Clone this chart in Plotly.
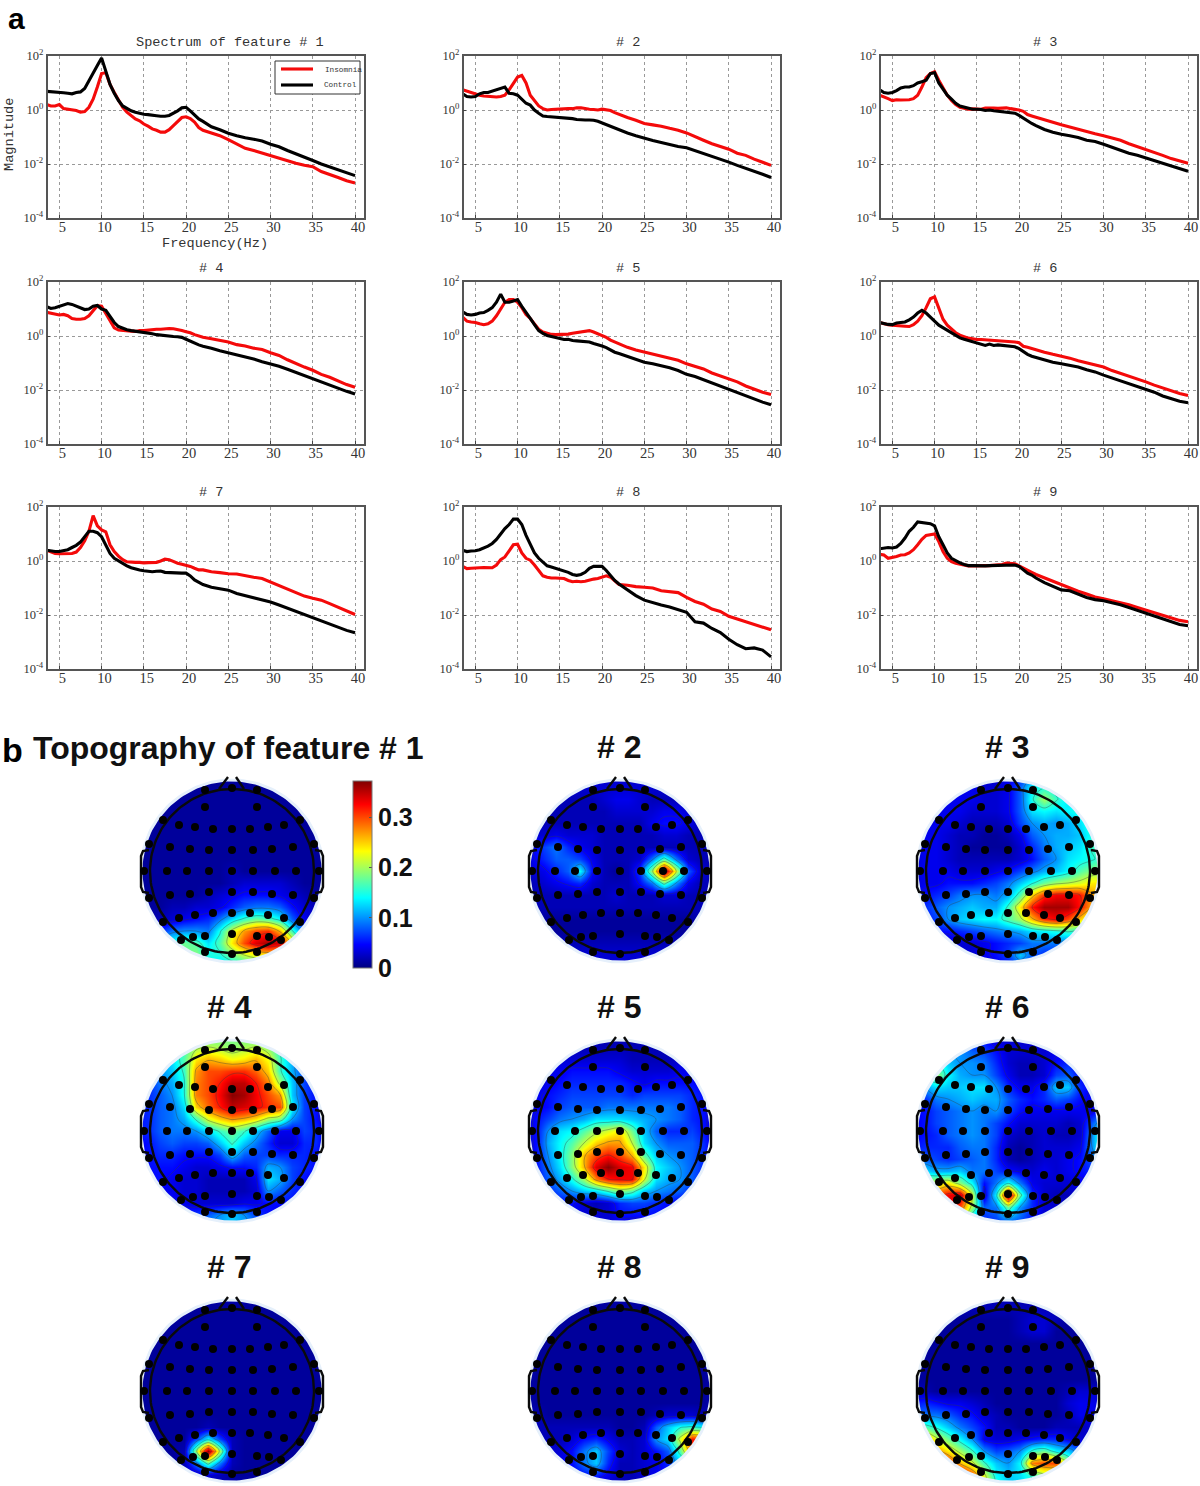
import numpy as np
import plotly.graph_objects as go

W, H = 1200, 1486
MONO = "Liberation Mono"
SANS = "Liberation Sans"
SERIF = "Liberation Serif"

# frequency samples (Hz) shared by all spectra
freq = [3.5, 4, 4.5, 5, 5.5, 6, 6.5, 7, 7.5, 8, 8.5, 9, 9.5, 10, 10.5, 11, 11.5, 12, 12.5, 13,
        13.5, 14, 14.5, 15, 15.5, 16, 16.5, 17, 17.5, 18, 18.5, 19, 19.5, 20, 20.5, 21, 21.5, 22,
        23, 24, 25, 26, 27, 28, 29, 30, 31, 32, 33, 34, 35, 36, 37, 38, 39, 40]

# log10 magnitude
insomnia_1 = [.2, .15, .15, .2, .05, .03, .02, -.02, -.08, -.06, .1, .4, .85, 1.35, 1.38, .95, .65, .38, .1, -.08,
              -.2, -.33, -.4, -.52, -.6, -.7, -.75, -.82, -.82, -.73, -.58, -.42, -.28, -.25, -.32, -.45, -.65, -.75,
              -.85, -.95, -1.1, -1.27, -1.42, -1.5, -1.6, -1.68, -1.78, -1.88, -1.97, -2.05, -2.1, -2.28, -2.38, -2.5, -2.62, -2.7]
control_1 = [.69, .68, .68, .67, .64, .62, .6, .65, .67, .8, 1.1, 1.35, 1.65, 1.93, 1.45, .95, .62, .35, .15, .05,
             -.03, -.08, -.13, -.16, -.17, -.2, -.21, -.23, -.23, -.2, -.12, -.03, .08, .1, -.03, -.2, -.33, -.42,
             -.62, -.73, -.86, -.95, -1.03, -1.08, -1.15, -1.27, -1.36, -1.5, -1.62, -1.72, -1.87, -2.0, -2.1, -2.2, -2.32, -2.43]
insomnia_2 = [.75, .7, .63, .6, .55, .52, .5, .5, .48, .5, .55, .75, 1.0, 1.22, 1.28, 1.0, .55, .35, .15, .05,
              0, .02, .03, .05, .05, .05, .05, .08, .08, .05, .03, .02, 0, .03, .01, -.02, -.1, -.17,
              -.28, -.38, -.5, -.55, -.6, -.68, -.75, -.85, -1.0, -1.12, -1.25, -1.35, -1.45, -1.6, -1.68, -1.82, -1.93, -2.05]
control_2 = [.6, .5, .48, .5, .6, .65, .65, .7, .75, .8, .85, .62, .6, .55, .4, .25, .18, 0, -.12, -.22,
             -.24, -.25, -.27, -.28, -.3, -.3, -.32, -.35, -.37, -.37, -.37, -.38, -.42, -.48, -.55, -.63, -.68, -.72,
             -.85, -.95, -1.05, -1.13, -1.2, -1.28, -1.35, -1.4, -1.5, -1.62, -1.72, -1.8, -1.93, -2.05, -2.15, -2.28, -2.38, -2.5]
insomnia_3 = [.55, .5, .42, .35, .38, .37, .37, .38, .42, .55, .85, 1.2, 1.35, 1.42, 1.1, .8, .55, .35, .2, .1,
              .05, .03, .04, .04, .03, .07, .08, .07, .06, .08, .08, .05, .03, 0, -.05, -.17, -.22, -.27,
              -.38, -.47, -.55, -.63, -.72, -.8, -.88, -.95, -1.03, -1.12, -1.25, -1.35, -1.45, -1.55, -1.68, -1.8, -1.9, -1.97]
control_3 = [.75, .65, .62, .65, .72, .82, .85, .85, .9, 1.0, 1.05, 1.1, 1.35, 1.38, 1.0, .75, .55, .4, .25, .15,
             .1, .05, .03, .03, .02, -.02, 0, -.03, -.05, -.07, -.08, -.1, -.12, -.2, -.3, -.42, -.5, -.58,
             -.72, -.82, -.9, -.95, -1.02, -1.12, -1.17, -1.27, -1.38, -1.5, -1.6, -1.68, -1.78, -1.88, -1.97, -2.08, -2.17, -2.27]
insomnia_4 = [.88, .85, .8, .78, .8, .75, .65, .62, .62, .65, .75, .95, 1.12, 1.1, .85, .55, .3, .22, .2, .2,
              .18, .17, .2, .2, .22, .23, .25, .25, .27, .28, .27, .22, .2, .16, .12, .05, 0, -.05,
              -.1, -.17, -.22, -.32, -.37, -.45, -.5, -.62, -.72, -.88, -1.03, -1.15, -1.27, -1.42, -1.53, -1.68, -1.8, -1.9]
control_4 = [1.09, 1.02, 1.05, 1.1, 1.15, 1.2, 1.17, 1.1, 1.05, .98, 1.0, 1.1, 1.13, 1.0, .95, .7, .5, .35, .28, .23,
             .2, .18, .15, .12, .1, .08, .05, .03, 0, 0, -.02, -.03, -.05, -.12, -.2, -.28, -.33, -.38,
             -.45, -.55, -.62, -.7, -.78, -.85, -.95, -1.03, -1.12, -1.23, -1.35, -1.45, -1.57, -1.7, -1.82, -1.93, -2.05, -2.15]
insomnia_5 = [.7, .55, .52, .5, .45, .42, .45, .55, .75, 1.0, 1.25, 1.35, 1.35, 1.25, 1.05, .8, .65, .45, .25, .15,
              .1, .06, .05, .05, .05, .07, .1, .12, .15, .18, .2, .15, .08, .03, -.05, -.15, -.22, -.3,
              -.42, -.52, -.6, -.68, -.75, -.82, -.9, -1.03, -1.12, -1.22, -1.37, -1.48, -1.57, -1.7, -1.85, -1.97, -2.08, -2.17]
control_5 = [.9, .8, .78, .8, .85, .87, .95, 1.05, 1.25, 1.55, 1.25, 1.25, 1.3, 1.35, 1.1, .85, .65, .42, .2, .1,
             .02, -.02, -.05, -.08, -.13, -.12, -.17, -.18, -.2, -.22, -.22, -.28, -.32, -.37, -.43, -.52, -.6, -.65,
             -.75, -.85, -.97, -1.03, -1.1, -1.18, -1.28, -1.42, -1.5, -1.62, -1.73, -1.85, -2.0, -2.1, -2.23, -2.35, -2.45, -2.55]
insomnia_6 = [.5, .45, .42, .4, .38, .37, .36, .35, .42, .55, .75, 1.05, 1.38, 1.45, 1.0, .62, .4, .25, .12, .03,
              -.03, -.08, -.1, -.13, -.13, -.14, -.15, -.16, -.17, -.17, -.18, -.2, -.22, -.25, -.38, -.42, -.47, -.52,
              -.6, -.68, -.75, -.82, -.92, -1.0, -1.08, -1.15, -1.28, -1.38, -1.48, -1.6, -1.7, -1.82, -1.93, -2.03, -2.13, -2.2]
control_6 = [.5, .46, .43, .42, .48, .5, .52, .6, .7, .85, .95, .85, .68, .55, .4, .3, .2, .1, 0, -.07,
             -.12, -.17, -.22, -.25, -.3, -.35, -.3, -.35, -.33, -.35, -.37, -.38, -.4, -.47, -.58, -.68, -.75, -.8,
             -.88, -.97, -1.03, -1.08, -1.15, -1.25, -1.33, -1.45, -1.55, -1.65, -1.78, -1.88, -1.98, -2.08, -2.22, -2.32, -2.42, -2.47]
insomnia_7 = [.4, .33, .28, .27, .27, .27, .28, .33, .5, .75, 1.1, 1.68, 1.3, 1.15, 1.08, .6, .35, .18, .05, -.03,
              -.05, -.05, -.05, -.07, -.06, -.05, -.05, 0, .07, .05, -.02, -.08, -.12, -.15, -.2, -.27, -.33, -.33,
              -.4, -.43, -.47, -.48, -.55, -.6, -.65, -.78, -.92, -1.05, -1.18, -1.3, -1.38, -1.45, -1.58, -1.72, -1.85, -1.98]
control_7 = [.4, .37, .35, .35, .38, .42, .5, .58, .7, .88, 1.1, 1.1, 1.05, .9, .6, .28, .1, 0, -.1, -.18,
             -.25, -.3, -.33, -.36, -.38, -.4, -.38, -.37, -.42, -.43, -.45, -.45, -.45, -.45, -.55, -.7, -.77, -.87,
             -.97, -1.03, -1.08, -1.2, -1.28, -1.37, -1.43, -1.52, -1.63, -1.75, -1.87, -1.98, -2.1, -2.23, -2.36, -2.47, -2.57, -2.66]
insomnia_8 = [-.2, -.28, -.27, -.25, -.25, -.24, -.24, -.25, -.15, .05, .15, .4, .6, .62, .3, .1, .03, -.15, -.35, -.55,
              -.6, -.63, -.63, -.65, -.65, -.72, -.77, -.75, -.77, -.75, -.7, -.67, -.65, -.6, -.55, -.6, -.72, -.87,
              -.9, -.95, -.97, -1.0, -1.1, -1.13, -1.17, -1.35, -1.5, -1.6, -1.78, -1.87, -2.05, -2.15, -2.25, -2.37, -2.47, -2.55]
control_8 = [.4, .35, .37, .38, .42, .47, .55, .65, .8, 1.0, 1.2, 1.35, 1.55, 1.55, 1.35, .95, .6, .3, .1, -.05,
             -.18, -.22, -.27, -.3, -.35, -.42, -.5, -.53, -.5, -.42, -.27, -.2, -.2, -.2, -.35, -.55, -.72, -.85,
             -1.07, -1.28, -1.45, -1.55, -1.63, -1.7, -1.8, -1.9, -2.25, -2.3, -2.5, -2.65, -2.9, -3.1, -3.25, -3.22, -3.3, -3.55]
insomnia_9 = [.25, .22, .1, .13, .17, .22, .23, .3, .42, .6, .8, .95, .98, 1.0, .72, .35, .1, -.02, -.08, -.12,
              -.15, -.18, -.18, -.17, -.18, -.17, -.17, -.15, -.15, -.13, -.08, -.08, -.1, -.18, -.27, -.35, -.42, -.5,
              -.63, -.75, -.88, -1.0, -1.12, -1.22, -1.33, -1.4, -1.47, -1.53, -1.62, -1.72, -1.82, -1.92, -2.02, -2.1, -2.2, -2.25]
control_9 = [.45, .48, .5, .48, .52, .65, .85, 1.1, 1.25, 1.45, 1.43, 1.4, 1.38, 1.3, .9, .6, .3, .1, 0, -.07,
             -.13, -.17, -.17, -.18, -.18, -.18, -.17, -.17, -.16, -.17, -.15, -.15, -.15, -.2, -.32, -.45, -.52, -.63,
             -.8, -.95, -1.07, -1.1, -1.22, -1.35, -1.43, -1.47, -1.55, -1.62, -1.72, -1.82, -1.93, -2.02, -2.13, -2.23, -2.35, -2.4]
insomnia = [insomnia_1, insomnia_2, insomnia_3, insomnia_4, insomnia_5, insomnia_6, insomnia_7, insomnia_8, insomnia_9]
control = [control_1, control_2, control_3, control_4, control_5, control_6, control_7, control_8, control_9]

x_ticks = [5, 10, 15, 20, 25, 30, 35, 40]
y_ticks = [1e-4, 1e-2, 1, 100]
y_tick_text = ["10<sup>-4</sup>", "10<sup>-2</sup>", "10<sup>0</sup>", "10<sup>2</sup>"]
colorbar_ticks = [0, 0.1, 0.2, 0.3]
colorbar_text = ["0", "0.1", "0.2", "0.3"]

# electrode positions, px from head centre
electrode_x = [-27, 0, 25, -27, 25, -69, 68, -53, -37, -19, 0, 18, 36, 52, -83, 82, -62, -42, -23, 0, 21, 40, 61,
               -88, 87, -65, -45, -23, 0, 21, 43, 64, -83, 82, -62, -42, -23, 0, 21, 40, 61,
               -69, 68, -53, -37, -19, 0, 18, 36, 52, -51, -39, -27, 0, 25, 37, 49, -27, 0, 25]
electrode_y = [81, 83, 81, 64, 64, 51, 51, 46, 44, 42, 42, 42, 44, 46, 27, 27, 24, 22, 21, 21, 21, 22, 24,
               0, 0, 0, 0, 0, 0, 0, 0, 0, -27, -27, -24, -23, -21, -21, -21, -23, -24,
               -51, -51, -47, -44, -42, -42, -42, -44, -47, -69, -66, -65, -63, -65, -66, -69, -81, -83, -81]

# topography weights x100, rows run top to bottom, columns left to right
topo_1 = [
    [1] * 17, [1] * 17, [1] * 17, [1] * 17, [1] * 17, [1] * 17, [1] * 17, [1] * 17,
    [1, 1, 1, 1, 1, 1, 1, 1, 2, 1, 1, 1, 1, 1, 1, 1, 1],
    [1, 1, 1, 1, 1, 1, 1, 1, 2, 3, 3, 3, 3, 2, 1, 1, 1],
    [1, 1, 1, 1, 1, 1, 2, 3, 4, 5, 5, 5, 4, 3, 2, 1, 1],
    [1, 1, 1, 2, 2, 3, 3, 4, 6, 8, 9, 9, 8, 5, 3, 2, 1],
    [2, 2, 2, 3, 4, 5, 6, 9, 13, 16, 18, 17, 14, 8, 4, 2, 2],
    [4, 4, 6, 9, 10, 10, 9, 15, 22, 27, 30, 31, 26, 16, 8, 4, 3],
    [10, 10, 12, 15, 18, 17, 13, 17, 24, 30, 34, 36, 34, 25, 12, 6, 4],
    [12, 12, 14, 16, 18, 19, 15, 15, 18, 21, 23, 24, 23, 16, 8, 5, 4],
    [10, 10, 12, 13, 14, 14, 13, 12, 13, 14, 15, 15, 15, 12, 6, 4, 4],
]
topo_2 = [
    [3] * 17,
    [3] * 17,
    [2, 2, 2, 2, 2, 2, 2, 3, 4, 4, 3, 2, 2, 2, 2, 2, 2],
    [2, 2, 2, 2, 2, 2, 2, 2, 3, 3, 3, 3, 4, 4, 3, 2, 2],
    [2, 2, 2, 2, 2, 2, 2, 2, 2, 2, 2, 4, 5, 5, 4, 2, 2],
    [2, 3, 3, 4, 3, 3, 3, 2, 2, 2, 2, 2, 3, 3, 2, 2, 2],
    [2, 4, 7, 9, 6, 4, 3, 2, 2, 2, 2, 2, 2, 2, 2, 2, 2],
    [2, 4, 6, 8, 8, 7, 4, 2, 2, 2, 3, 9, 17, 9, 3, 2, 2],
    [2, 3, 4, 6, 8, 14, 5, 2, 1, 2, 7, 20, 37, 22, 8, 3, 2],
    [2, 2, 3, 4, 5, 6, 3, 2, 2, 2, 5, 9, 17, 10, 4, 2, 2],
    [2, 2, 2, 2, 2, 2, 2, 2, 3, 2, 2, 2, 3, 3, 2, 2, 2],
    [2, 2, 2, 2, 2, 2, 2, 2, 2, 2, 2, 2, 2, 2, 2, 2, 2],
    [2, 2, 1, 1, 1, 1, 1, 1, 1, 1, 1, 1, 1, 1, 1, 2, 2],
    [2, 2, 1, 1, 1, 1, 1, 1, 1, 1, 1, 1, 1, 1, 1, 2, 2],
    [3, 2, 2, 2, 2, 2, 2, 2, 2, 2, 2, 2, 2, 2, 2, 2, 3],
    [3] * 17,
    [3] * 17,
]
topo_3 = [
    [3, 3, 3, 3, 3, 3, 3, 3, 4, 6, 8, 9, 9, 8, 6, 4, 3],
    [3, 3, 3, 3, 4, 4, 3, 3, 4, 8, 14, 15, 14, 13, 10, 8, 5],
    [3, 3, 3, 4, 4, 4, 3, 3, 4, 8, 15, 20, 16, 13, 13, 12, 10],
    [3, 4, 4, 4, 4, 3, 3, 3, 4, 8, 13, 14, 13, 14, 15, 16, 14],
    [3, 4, 4, 4, 3, 2, 2, 2, 3, 7, 10, 11, 10, 11, 13, 16, 16],
    [3, 4, 4, 3, 2, 2, 1, 1, 2, 4, 8, 10, 11, 11, 12, 15, 17],
    [3, 4, 4, 3, 2, 1, 1, 1, 1, 3, 6, 9, 11, 12, 13, 16, 17],
    [3, 4, 4, 3, 2, 2, 2, 2, 2, 3, 5, 8, 10, 13, 14, 15, 17],
    [3, 4, 4, 4, 3, 3, 3, 4, 5, 7, 9, 11, 12, 14, 17, 19, 20],
    [3, 4, 4, 5, 5, 5, 6, 7, 9, 12, 15, 18, 20, 21, 22, 24, 24],
    [4, 5, 6, 7, 9, 10, 10, 9, 11, 17, 25, 31, 33, 33, 32, 27, 26],
    [4, 6, 8, 10, 11, 12, 11, 11, 16, 24, 32, 36, 36, 36, 32, 26, 22],
    [4, 5, 7, 10, 12, 13, 14, 14, 17, 20, 26, 31, 33, 30, 25, 20, 16],
    [3, 4, 5, 5, 6, 7, 8, 9, 10, 11, 13, 14, 15, 16, 15, 12, 10],
    [3, 3, 3, 3, 3, 3, 4, 5, 6, 7, 9, 9, 9, 9, 9, 8, 6],
    [3, 3, 3, 3, 3, 3, 4, 5, 7, 12, 8, 6, 6, 5, 4, 3, 3],
    [3, 3, 3, 3, 3, 3, 3, 4, 5, 7, 5, 4, 4, 3, 3, 3, 3],
]
topo_4 = [
    [3, 5, 8, 10, 12, 14, 16, 18, 18, 18, 16, 14, 12, 10, 8, 5, 3],
    [3, 5, 8, 12, 16, 20, 21, 20, 19, 20, 21, 19, 15, 11, 8, 5, 3],
    [4, 6, 10, 13, 17, 24, 26, 25, 23, 24, 26, 23, 16, 11, 7, 5, 3],
    [4, 6, 10, 12, 16, 27, 30, 30, 31, 31, 29, 25, 16, 11, 7, 5, 3],
    [4, 6, 9, 11, 15, 28, 30, 32, 35, 35, 32, 28, 20, 12, 7, 5, 3],
    [5, 6, 8, 10, 15, 28, 30, 33, 37, 36, 33, 30, 27, 12, 7, 5, 3],
    [5, 6, 8, 9, 13, 25, 29, 32, 35, 34, 33, 31, 30, 14, 7, 5, 3],
    [5, 6, 8, 9, 11, 16, 22, 25, 27, 26, 24, 20, 18, 10, 7, 5, 3],
    [5, 6, 8, 9, 9, 10, 13, 16, 18, 16, 12, 8, 4, 4, 7, 6, 4],
    [4, 5, 7, 8, 7, 7, 8, 12, 16, 12, 9, 6, 3, 3, 6, 6, 3],
    [4, 5, 6, 6, 5, 5, 5, 7, 12, 8, 7, 7, 6, 6, 6, 5, 3],
    [4, 5, 5, 5, 4, 3, 3, 4, 5, 5, 6, 11, 10, 7, 6, 5, 3],
    [4, 5, 5, 4, 3, 3, 2, 2, 2, 2, 4, 13, 11, 7, 5, 4, 3],
    [4, 4, 4, 4, 3, 3, 2, 2, 2, 2, 3, 10, 8, 6, 5, 4, 3],
    [3, 3, 4, 5, 4, 3, 3, 3, 3, 4, 4, 5, 5, 5, 4, 3, 3],
    [3, 3, 4, 5, 6, 7, 8, 10, 12, 10, 7, 5, 4, 4, 3, 3, 3],
    [3, 3, 4, 6, 8, 9, 10, 11, 12, 11, 9, 7, 5, 4, 3, 3, 3],
]
topo_5 = [
    [2] * 17,
    [2] * 17,
    [2, 3, 3, 3, 3, 3, 3, 3, 3, 2, 2, 2, 2, 3, 3, 3, 2],
    [2, 3, 4, 4, 5, 5, 5, 5, 4, 3, 3, 3, 3, 4, 4, 4, 3],
    [3, 3, 4, 5, 6, 6, 6, 6, 6, 5, 4, 5, 5, 5, 5, 4, 3],
    [3, 4, 5, 6, 7, 7, 7, 7, 7, 6, 7, 7, 7, 7, 6, 5, 3],
    [3, 4, 5, 7, 8, 8, 8, 9, 9, 9, 9, 9, 9, 8, 6, 5, 3],
    [3, 5, 7, 9, 10, 11, 13, 13, 13, 12, 11, 10, 9, 8, 6, 5, 3],
    [3, 5, 10, 13, 14, 17, 20, 22, 24, 18, 12, 8, 6, 6, 7, 5, 3],
    [3, 5, 11, 14, 17, 21, 25, 27, 27, 21, 13, 10, 8, 8, 8, 6, 3],
    [3, 5, 10, 14, 19, 26, 30, 32, 30, 26, 17, 12, 10, 9, 8, 6, 3],
    [3, 5, 9, 13, 19, 26, 34, 37, 34, 33, 24, 14, 12, 10, 8, 6, 3],
    [3, 5, 8, 11, 15, 20, 28, 32, 33, 33, 22, 13, 11, 10, 8, 5, 3],
    [3, 4, 6, 8, 10, 12, 13, 16, 19, 17, 12, 10, 9, 8, 6, 4, 3],
    [3, 3, 4, 5, 5, 3, 2, 3, 6, 7, 7, 6, 5, 4, 3, 3, 3],
    [3, 3, 3, 4, 4, 3, 3, 3, 5, 5, 5, 5, 4, 3, 3, 3, 3],
    [3] * 17,
]
topo_6 = [
    [3, 3, 3, 4, 4, 5, 5, 3, 3, 3, 3, 3, 3, 3, 3, 3, 3],
    [4, 5, 8, 10, 10, 8, 7, 5, 3, 3, 3, 3, 4, 4, 3, 3, 3],
    [6, 10, 16, 12, 10, 10, 9, 6, 3, 2, 2, 3, 5, 6, 4, 3, 3],
    [10, 14, 20, 14, 11, 10, 10, 7, 4, 2, 2, 3, 7, 8, 5, 3, 3],
    [6, 10, 13, 12, 12, 13, 13, 10, 6, 4, 4, 6, 12, 12, 6, 4, 3],
    [4, 6, 9, 10, 11, 12, 11, 11, 8, 6, 5, 6, 8, 7, 5, 4, 3],
    [4, 5, 7, 8, 9, 10, 9, 10, 7, 5, 4, 4, 4, 4, 4, 4, 6],
    [4, 5, 7, 8, 9, 10, 9, 7, 5, 3, 3, 3, 3, 2, 3, 8, 13],
    [4, 5, 6, 8, 9, 10, 9, 7, 3, 2, 2, 3, 2, 2, 3, 10, 18],
    [5, 6, 6, 6, 8, 9, 9, 6, 2, 1, 2, 3, 3, 3, 4, 10, 18],
    [7, 8, 7, 6, 7, 8, 9, 6, 2, 1, 2, 3, 3, 4, 5, 8, 12],
    [12, 13, 11, 11, 12, 9, 9, 7, 5, 4, 3, 4, 3, 4, 5, 6, 5],
    [18, 20, 22, 24, 19, 14, 5, 9, 15, 9, 4, 3, 3, 3, 4, 4, 3],
    [25, 30, 30, 33, 35, 22, 3, 14, 37, 17, 6, 3, 2, 2, 3, 3, 3],
    [25, 30, 35, 34, 30, 20, 8, 9, 18, 10, 6, 3, 3, 3, 3, 3, 3],
    [15, 20, 28, 30, 25, 12, 6, 7, 10, 8, 5, 3, 3, 3, 3, 3, 3],
    [8, 10, 14, 15, 12, 8, 5, 5, 6, 5, 4, 3, 3, 3, 3, 3, 3],
]
topo_7 = [
    [2] * 17, [1] * 17, [1] * 17, [1] * 17, [1] * 17, [1] * 17, [1] * 17, [1] * 17, [1] * 17,
    [1] * 17, [1] * 17,
    [1, 1, 1, 1, 1, 1, 2, 1, 1, 1, 1, 1, 1, 1, 1, 1, 1],
    [1, 1, 1, 1, 1, 7, 14, 7, 2, 1, 1, 1, 1, 1, 1, 1, 1],
    [1, 1, 1, 1, 2, 20, 37, 20, 2, 1, 1, 1, 1, 1, 1, 1, 1],
    [1, 1, 1, 1, 2, 9, 17, 9, 2, 1, 1, 1, 1, 1, 1, 1, 1],
    [1, 1, 1, 1, 1, 2, 3, 2, 1, 1, 1, 1, 1, 1, 1, 1, 1],
    [2] * 17,
]
topo_8 = [
    [2] * 17,
    [2, 1, 1, 1, 1, 1, 1, 1, 1, 1, 1, 1, 1, 1, 1, 1, 2],
    [2, 1, 1, 1, 1, 1, 1, 1, 1, 1, 1, 1, 1, 1, 1, 1, 2],
    [2, 1, 1, 1, 1, 1, 1, 1, 1, 1, 1, 1, 1, 1, 1, 1, 2],
    [2, 1, 1, 1, 1, 1, 1, 1, 1, 1, 1, 1, 1, 1, 1, 1, 2],
    [2, 1, 1, 1, 1, 1, 1, 1, 1, 1, 1, 1, 1, 1, 1, 1, 2],
    [2, 1, 1, 1, 1, 1, 1, 1, 1, 1, 1, 1, 1, 1, 1, 1, 2],
    [2, 1, 1, 1, 1, 1, 1, 1, 1, 1, 1, 1, 1, 1, 1, 1, 2],
    [2, 1, 1, 1, 1, 1, 1, 1, 1, 1, 1, 1, 1, 1, 1, 1, 2],
    [2, 1, 1, 1, 1, 1, 1, 1, 1, 1, 1, 1, 1, 1, 1, 1, 2],
    [2, 2, 1, 1, 1, 1, 1, 1, 1, 1, 1, 2, 3, 3, 3, 2, 2],
    [2, 2, 2, 2, 2, 2, 2, 2, 1, 1, 2, 8, 12, 15, 16, 14, 6],
    [2, 2, 2, 2, 3, 5, 6, 4, 2, 2, 3, 10, 13, 22, 32, 30, 14],
    [3, 3, 3, 3, 5, 9, 12, 7, 3, 2, 3, 5, 8, 17, 30, 25, 12],
    [3, 3, 3, 4, 5, 9, 12, 6, 2, 2, 3, 4, 6, 12, 15, 12, 6],
    [3, 3, 3, 3, 4, 5, 6, 4, 2, 2, 3, 4, 5, 6, 6, 5, 3],
    [2] * 17,
]
topo_9 = [
    [2] * 17,
    [2] * 17,
    [1, 1, 1, 1, 1, 1, 1, 1, 1, 2, 3, 3, 2, 1, 1, 1, 1],
    [1, 1, 1, 1, 1, 1, 1, 1, 1, 2, 3, 3, 1, 1, 1, 1, 1],
    [1] * 17, [1] * 17, [1] * 17, [1] * 17,
    [2, 2, 1, 1, 1, 1, 1, 1, 1, 1, 1, 1, 1, 2, 3, 3, 2],
    [5, 6, 5, 4, 4, 3, 2, 1, 1, 1, 1, 1, 1, 3, 4, 4, 3],
    [8, 9, 9, 8, 6, 5, 3, 2, 1, 1, 1, 1, 1, 2, 4, 4, 3],
    [16, 17, 15, 12, 9, 7, 5, 2, 2, 1, 1, 1, 2, 2, 2, 3, 3],
    [32, 28, 22, 18, 14, 10, 4, 3, 3, 4, 5, 6, 6, 4, 3, 3, 3],
    [34, 34, 28, 24, 20, 16, 10, 7, 8, 10, 16, 18, 14, 12, 8, 3, 3],
    [30, 33, 35, 32, 26, 22, 16, 12, 10, 14, 28, 30, 30, 20, 8, 4, 3],
    [28, 30, 34, 34, 34, 30, 22, 14, 12, 13, 16, 20, 20, 12, 6, 3, 3],
    [28, 28, 30, 30, 30, 28, 24, 16, 12, 12, 14, 16, 16, 10, 5, 3, 3],
]
topographies = [topo_1, topo_2, topo_3, topo_4, topo_5, topo_6, topo_7, topo_8, topo_9]

# panel geometry in page pixels
spec_left = [47.5, 463.5, 880.5]
spec_top = [56, 282, 507]
spec_w, spec_h = 316, 162
topo_cx = [232, 620, 1008]
topo_cy = [871, 1131, 1391]
topo_half = 95
grid_shift_x = [0, -4, 0, 0, 0, 0, 0, 0, 0]
grid_shift_y = [0, 0, 0, 0, 0, -4, 0, 0, 0]
grid = [-96 + 12 * i for i in range(17)]
head_r = 82

jet = [[0, "rgb(0,0,128)"], [0.125, "rgb(0,0,255)"], [0.375, "rgb(0,255,255)"],
       [0.625, "rgb(255,255,0)"], [0.875, "rgb(255,0,0)"], [1, "rgb(128,0,0)"]]


def page_x(px):
    return px / W


def page_y(px):
    return 1 - px / H


def ring(outer_half, r):
    # closed square with a round hole, so a filled trace leaves the map showing through
    t = np.linspace(np.pi * 1.25, -np.pi * 0.75, 181)
    xs = [-outer_half, outer_half, outer_half, -outer_half, -outer_half] + list(r * np.cos(t)) + [-outer_half]
    ys = [-outer_half, -outer_half, outer_half, outer_half, -outer_half] + list(r * np.sin(t)) + [-outer_half]
    return xs, ys


def head_outline():
    t = np.linspace(0, 2 * np.pi, 181)
    xs = list(head_r * np.cos(t)) + [None]
    ys = list(head_r * np.sin(t)) + [None]
    xs += [-13, -4, None, 4, 12, None]
    ys += [82, 94, None, 94, 82, None]
    ear_x = [83, 89, 91, 91, 89, 83]
    ear_y = [21, 20, 15, -16, -21, -22]
    xs += [-v for v in ear_x] + [None] + ear_x
    ys += ear_y + [None] + ear_y
    return xs, ys


fig = go.Figure()
layout_axes = {}
line_w = 3.1

for n in range(9):
    row, col = n // 3, n % 3
    ax = n + 1
    suffix = "" if ax == 1 else str(ax)
    left, top = spec_left[col], spec_top[row]
    fig.add_trace(go.Scatter(x=freq, y=10 ** np.array(insomnia[n]), mode="lines", name="Insomnia",
                             line=dict(color="#f40a0a", width=line_w), showlegend=False,
                             xaxis=f"x{suffix}", yaxis=f"y{suffix}"))
    fig.add_trace(go.Scatter(x=freq, y=10 ** np.array(control[n]), mode="lines", name="Control",
                             line=dict(color="black", width=line_w), showlegend=False,
                             xaxis=f"x{suffix}", yaxis=f"y{suffix}"))
    layout_axes[f"xaxis{suffix}"] = dict(
        domain=[page_x(left), page_x(left + spec_w)], anchor=f"y{suffix}", range=[3.6, 41],
        tickvals=x_ticks, ticks="inside", ticklen=3, tickcolor="#444", showgrid=True,
        gridcolor="#999", griddash="dot", gridwidth=1, zeroline=False, mirror=True, showline=True,
        linecolor="#555", linewidth=1.5, ticklabelshift=3, ticklabelstandoff=-5,
        tickfont=dict(family=SERIF, size=14.5, color="#333"))
    layout_axes[f"yaxis{suffix}"] = dict(
        domain=[page_y(top + spec_h), page_y(top)], anchor=f"x{suffix}", type="log", range=[-4, 2],
        tickvals=y_ticks, ticktext=y_tick_text, ticks="inside", ticklen=3, tickcolor="#444",
        showgrid=True, gridcolor="#999", griddash="dot", gridwidth=1, zeroline=False, mirror=True,
        showline=True, linecolor="#555", linewidth=1.5,
        tickfont=dict(family=SERIF, size=12.5, color="#333"))

for n in range(9):
    row, col = n // 3, n % 3
    ax = n + 10
    cx, cy = topo_cx[col], topo_cy[row]
    xa, ya = f"x{ax}", f"y{ax}"
    gx = [g + grid_shift_x[n] for g in grid]
    gy = [-g + grid_shift_y[n] for g in grid]
    z = np.array(topographies[n]) / 100
    fig.add_trace(go.Heatmap(x=gx, y=gy, z=z, coloraxis="coloraxis", zsmooth="best",
                             xaxis=xa, yaxis=ya, showlegend=False))
    fig.add_trace(go.Contour(x=gx, y=gy, z=z, showscale=False, autocontour=False, showlegend=False,
                             colorscale=[[0, "rgba(0,0,0,0)"], [1, "rgba(0,0,0,0)"]],
                             contours=dict(coloring="none", start=0.045, end=0.36, size=0.055),
                             line=dict(color="rgba(50,60,60,0.55)", width=0.7, smoothing=1),
                             xaxis=xa, yaxis=ya))
    hx, hy = ring(93, 89.5)
    fig.add_trace(go.Scatter(x=hx, y=hy, mode="lines", fill="toself", fillcolor="#e6f0fb",
                             line=dict(width=0), showlegend=False, xaxis=xa, yaxis=ya))
    wx, wy = ring(topo_half + 3, 92.5)
    fig.add_trace(go.Scatter(x=wx, y=wy, mode="lines", fill="toself", fillcolor="white", cliponaxis=False,
                             line=dict(width=0), showlegend=False, xaxis=xa, yaxis=ya))
    ox, oy = head_outline()
    fig.add_trace(go.Scatter(x=ox, y=oy, mode="lines", line=dict(color="#0a0a0a", width=2.4),
                             showlegend=False, xaxis=xa, yaxis=ya))
    fig.add_trace(go.Scatter(x=electrode_x, y=electrode_y, mode="markers",
                             marker=dict(color="black", size=8), showlegend=False, xaxis=xa, yaxis=ya))
    layout_axes[f"xaxis{ax}"] = dict(domain=[page_x(cx - topo_half), page_x(cx + topo_half)], anchor=ya,
                                     range=[-topo_half, topo_half], visible=False)
    layout_axes[f"yaxis{ax}"] = dict(domain=[page_y(cy + topo_half), page_y(cy - topo_half)], anchor=xa,
                                     range=[-topo_half, topo_half], visible=False)

labels = []


def label(text, x, y, family=MONO, size=13.6, color="#333", bold=False, angle=0, anchor="center", vanchor="middle"):
    labels.append(dict(text=f"<b>{text}</b>" if bold else text, x=page_x(x), y=page_y(y), xref="paper",
                       yref="paper", xanchor=anchor, yanchor=vanchor, showarrow=False, textangle=angle,
                       font=dict(family=family, size=size, color=color)))


label("Spectrum of feature # 1", 230, 43)
spec_title_x = [211, 628, 1045]
spec_title_y = [43, 268, 493]
for n in range(1, 9):
    label(f"# {n + 1}", spec_title_x[n % 3], spec_title_y[n // 3])
label("Frequency(Hz)", 215, 243.5)
label("Magnitude", 9, 135, angle=-90)
label("a", 16, 0, family=SANS, size=30, color="black", bold=True, vanchor="top")
label("b", 12, 750, family=SANS, size=34, color="black", bold=True)
label("Topography of feature # 1", 228, 748, family=SANS, size=32, color="#111", bold=True)
topo_title_x = [229, 619, 1007]
topo_title_y = [747, 1007, 1267]
for n in range(1, 9):
    label(f"# {n + 1}", topo_title_x[n % 3], topo_title_y[n // 3], family=SANS, size=32, color="#111", bold=True)
# legend of the first panel
label("Insomnia", 323, 70, size=7.7, anchor="left")
label("Control", 322, 85, size=7.7, anchor="left")

legend_shapes = [
    dict(type="rect", xref="paper", yref="paper", x0=page_x(275), x1=page_x(360), y0=page_y(94), y1=page_y(61),
         fillcolor="white", line=dict(color="#333", width=1)),
    dict(type="line", xref="paper", yref="paper", x0=page_x(281), x1=page_x(313), y0=page_y(69), y1=page_y(69),
         line=dict(color="#f40a0a", width=line_w)),
    dict(type="line", xref="paper", yref="paper", x0=page_x(281), x1=page_x(313), y0=page_y(85), y1=page_y(85),
         line=dict(color="black", width=line_w)),
]

fig.update_layout(
    width=W, height=H, autosize=False, margin=dict(l=0, r=0, t=0, b=0, autoexpand=False), paper_bgcolor="white",
    plot_bgcolor="white", annotations=labels, shapes=legend_shapes, showlegend=False,
    coloraxis=dict(cmin=0, cmax=0.373, colorscale=jet,
                   colorbar=dict(x=page_x(353), xanchor="left", y=page_y(781), yanchor="top",
                                 len=187 / H, lenmode="fraction", thickness=19, thicknessmode="pixels",
                                 xpad=0, ypad=0, outlinecolor="#777", outlinewidth=1,
                                 tickvals=colorbar_ticks, ticktext=colorbar_text,
                                 ticks="inside", ticklen=3, tickcolor="#555",
                                 tickfont=dict(family=SANS, size=25, color="#111", weight="bold"))),
    **layout_axes,
)

fig.write_html("out.html", config={"displayModeBar": False}, post_script="document.body.style.margin='0';")
